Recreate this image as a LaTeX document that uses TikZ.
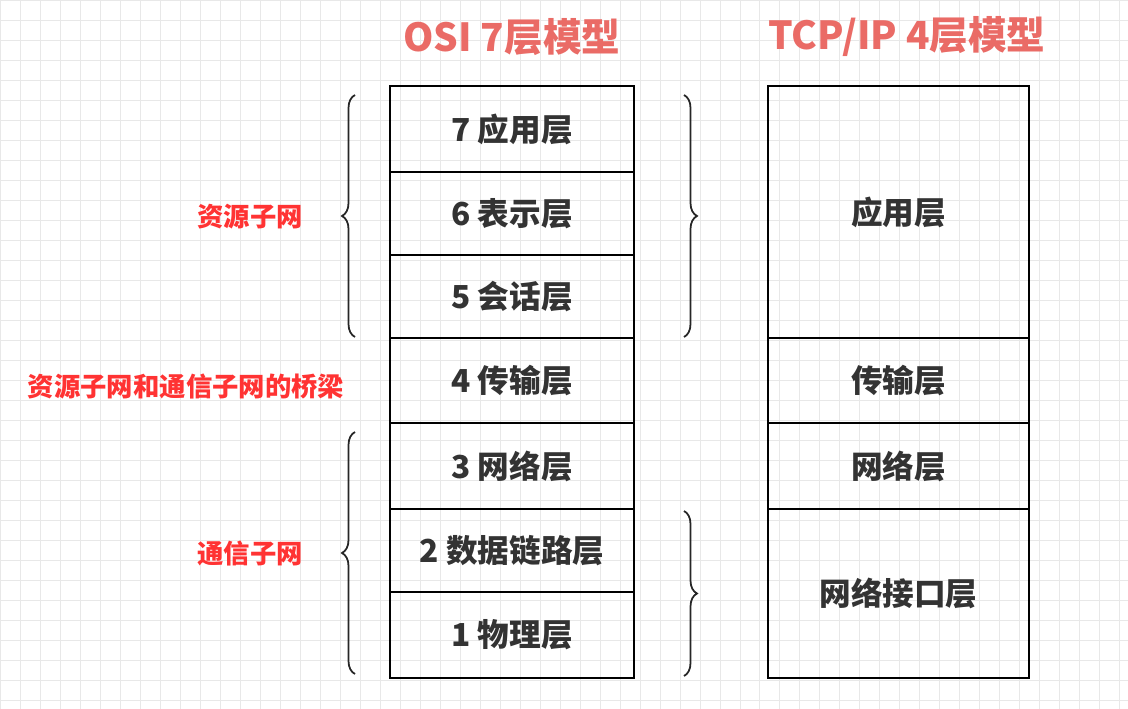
\documentclass[tikz,border=0pt]{standalone}
\usepackage{fontspec}
\setmainfont{Noto Sans CJK SC}
\usetikzlibrary{decorations.pathreplacing}
\definecolor{ttl}{HTML}{EA6B66}
\definecolor{lbl}{HTML}{FF3333}
\definecolor{txt}{HTML}{333333}
\tikzset{
 layer/.style={draw=black,line width=0.6pt,inner sep=0pt,font=\fontsize{18}{20}\selectfont\bfseries,text=txt},
 title/.style={font=\fontsize{22}{24}\selectfont\bfseries,text=ttl},
 side/.style={font=\fontsize{15}{17}\selectfont\bfseries,text=lbl},
 brc/.style={draw=black!85,line width=1pt,decorate,decoration={brace,amplitude=0.26cm}}
}
\begin{document}
\begin{tikzpicture}[x=0.02cm,y=-0.02cm]
\useasboundingbox (0,0) rectangle (1128,709);
\fill[white] (0,0) rectangle (1128,709);
\draw[black!9,line width=0.4pt,step=0.4cm] (0,0) grid (1128,709);
\node[title] (t1) at (512,37) {OSI 7层模型};
\node[title] (t2) at (907,37) {TCP/IP 4层模型};
\def\bx#1#2#3#4{\node[layer,minimum width=244*0.02cm,minimum height={(#3-#2)*0.02cm}] (#1) at (512,{(#2+#3)/2}) {#4};}
\bx{o7}{86}{172}{7 应用层}
\bx{o6}{172}{255}{6 表示层}
\bx{o5}{255}{338}{5 会话层}
\bx{o4}{338}{423}{4 传输层}
\bx{o3}{423}{509}{3 网络层}
\bx{o2}{509}{592}{2 数据链路层}
\bx{o1}{592}{678}{1 物理层}
\def\tx#1#2#3#4{\node[layer,minimum width=261*0.02cm,minimum height={(#3-#2)*0.02cm}] (#1) at (898.5,{(#2+#3)/2}) {#4};}
\tx{p4}{86}{338}{应用层}
\tx{p3}{338}{423}{传输层}
\tx{p2}{423}{509}{网络层}
\tx{p1}{509}{678}{网络接口层}
\coordinate (a1) at (355,337); \coordinate (a2) at (355,95);
\coordinate (b1) at (355,674); \coordinate (b2) at (355,432);
\coordinate (c1) at (684,95); \coordinate (c2) at (684,337);
\coordinate (d1) at (684,511); \coordinate (d2) at (684,676);
\draw[brc] (a1) -- (a2);
\draw[brc] (b1) -- (b2);
\draw[brc] (c1) -- (c2);
\draw[brc] (d1) -- (d2);
\node[side] (s1) at (250,217) {资源子网};
\node[side] (s2) at (186,386) {资源子网和通信子网的桥梁};
\node[side] (s3) at (250,553) {通信子网};
\end{tikzpicture}
\end{document}
